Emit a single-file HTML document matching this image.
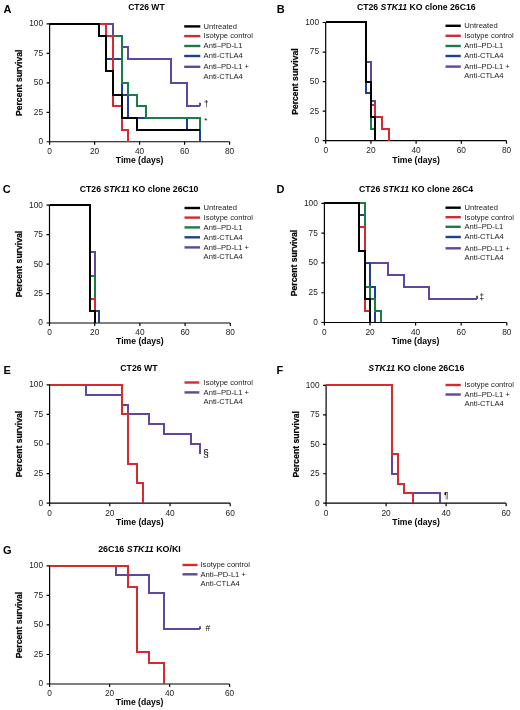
<!DOCTYPE html>
<html><head><meta charset="utf-8"><title>Survival curves</title>
<style>
html,body{margin:0;padding:0;background:#fff;width:520px;height:710px;overflow:hidden}
svg{display:block;will-change:transform}
text{font-family:"Liberation Sans",sans-serif;fill:#000}
.t{font-size:8.3px;fill:#222}
.l{font-size:7.6px;fill:#222}
.b{font-size:8.6px;font-weight:bold}
.T{font-size:9.4px;font-weight:bold}
.L{font-size:11px;font-weight:bold}
</style></head><body>
<svg width="520" height="710" viewBox="0 0 520 710">
<rect width="520" height="710" fill="#fff"/>
<text x="3.4" y="12.7" class="L">A</text>
<text x="146.4" y="10.1" text-anchor="middle" class="T" textLength="36.5" lengthAdjust="spacingAndGlyphs">CT26 WT</text>
<path d="M49.6 23.25V141.75H229.6" fill="none" stroke="#000" stroke-width="1.2"/>
<path d="M46.6 141.75H49.6M46.6 112.28H49.6M46.6 82.8H49.6M46.6 53.33H49.6M46.6 23.85H49.6M49.6 141.75V144.75M94.6 141.75V144.75M139.6 141.75V144.75M184.6 141.75V144.75M229.6 141.75V144.75" fill="none" stroke="#000" stroke-width="1.2"/>
<text x="43" y="144.15" text-anchor="end" class="t">0</text>
<text x="43" y="114.68" text-anchor="end" class="t">25</text>
<text x="43" y="85.2" text-anchor="end" class="t">50</text>
<text x="43" y="55.73" text-anchor="end" class="t">75</text>
<text x="43" y="26.25" text-anchor="end" class="t">100</text>
<text x="49.6" y="153.5" text-anchor="middle" class="t">0</text>
<text x="94.6" y="153.5" text-anchor="middle" class="t">20</text>
<text x="139.6" y="153.5" text-anchor="middle" class="t">40</text>
<text x="184.6" y="153.5" text-anchor="middle" class="t">60</text>
<text x="229.6" y="153.5" text-anchor="middle" class="t">80</text>
<text x="139.6" y="163.4" text-anchor="middle" class="b">Time (days)</text>
<text transform="translate(22 82.8) rotate(-90)" text-anchor="middle" class="b" stroke="#000" stroke-width="0.2">Percent survival</text>
<path d="M50 24H113V36H122V47H128V59H171V83H187V106H200" fill="none" stroke="#60469c" stroke-width="2.0" stroke-linejoin="miter" stroke-linecap="butt"/>
<path d="M200 102.7V106" stroke="#60469c" stroke-width="2.0"/>
<path d="M50 24H106V59H122V95H128V118H187V130H200V142" fill="none" stroke="#1f3f90" stroke-width="2.0" stroke-linejoin="miter" stroke-linecap="butt"/>
<path d="M50 24H106V36H122V83H128V95H137V106H146V118H200V130" fill="none" stroke="#1a7d49" stroke-width="2.0" stroke-linejoin="miter" stroke-linecap="butt"/>
<path d="M50 24H106V36H113V106H122V130H128V142" fill="none" stroke="#d42a30" stroke-width="2.0" stroke-linejoin="miter" stroke-linecap="butt"/>
<path d="M50 24H99V36H106V71H113V95H122V118H137V130H200" fill="none" stroke="#000000" stroke-width="2.0" stroke-linejoin="miter" stroke-linecap="butt"/>
<path d="M184.2 26.4H200.3" stroke="#000000" stroke-width="2.4"/>
<text x="203.6" y="28.75" class="l">Untreated</text>
<path d="M184.2 36.1H200.3" stroke="#d42a30" stroke-width="2.4"/>
<text x="203.6" y="38.45" class="l">Isotype control</text>
<path d="M184.2 46H200.3" stroke="#1a7d49" stroke-width="2.4"/>
<text x="203.6" y="48.35" class="l">Anti–PD-L1</text>
<path d="M184.2 56H200.3" stroke="#1f3f90" stroke-width="2.4"/>
<text x="203.6" y="58.35" class="l">Anti-CTLA4</text>
<path d="M184.2 66.8H200.3" stroke="#60469c" stroke-width="2.4"/>
<text x="203.6" y="69.15" class="l">Anti–PD-L1 +</text>
<text x="203.6" y="78.55" class="l">Anti-CTLA4</text>
<text x="204" y="106.7" style="font-size:8.2px" fill="#222">†</text>
<text x="204.3" y="122.5" style="font-size:8.0px" fill="#222">*</text>
<text x="276.8" y="13" class="L">B</text>
<text x="416.3" y="10" text-anchor="middle" class="T" textLength="118.7" lengthAdjust="spacingAndGlyphs">CT26 <tspan font-style="italic">STK11</tspan> KO clone 26C16</text>
<path d="M325.7 21.9V140.7H506.5" fill="none" stroke="#000" stroke-width="1.2"/>
<path d="M322.7 140.7H325.7M322.7 111.15H325.7M322.7 81.6H325.7M322.7 52.05H325.7M322.7 22.5H325.7M325.7 140.7V143.7M370.9 140.7V143.7M416.1 140.7V143.7M461.3 140.7V143.7M506.5 140.7V143.7" fill="none" stroke="#000" stroke-width="1.2"/>
<text x="319.1" y="143.1" text-anchor="end" class="t">0</text>
<text x="319.1" y="113.55" text-anchor="end" class="t">25</text>
<text x="319.1" y="84" text-anchor="end" class="t">50</text>
<text x="319.1" y="54.45" text-anchor="end" class="t">75</text>
<text x="319.1" y="24.9" text-anchor="end" class="t">100</text>
<text x="325.7" y="153.4" text-anchor="middle" class="t">0</text>
<text x="370.9" y="153.4" text-anchor="middle" class="t">20</text>
<text x="416.1" y="153.4" text-anchor="middle" class="t">40</text>
<text x="461.3" y="153.4" text-anchor="middle" class="t">60</text>
<text x="506.5" y="153.4" text-anchor="middle" class="t">80</text>
<text x="416.1" y="163.4" text-anchor="middle" class="b">Time (days)</text>
<text transform="translate(298.1 81.6) rotate(-90)" text-anchor="middle" class="b" stroke="#000" stroke-width="0.2">Percent survival</text>
<path d="M326 22H366V62H371V101H375V141" fill="none" stroke="#60469c" stroke-width="2.0" stroke-linejoin="miter" stroke-linecap="butt"/>
<path d="M326 22H366V93H371V117H375V141" fill="none" stroke="#1f3f90" stroke-width="2.0" stroke-linejoin="miter" stroke-linecap="butt"/>
<path d="M326 22H366V82H371V129H375V141" fill="none" stroke="#1a7d49" stroke-width="2.0" stroke-linejoin="miter" stroke-linecap="butt"/>
<path d="M326 22H366V82H371V105H375V117H382V129H389V141" fill="none" stroke="#d42a30" stroke-width="2.0" stroke-linejoin="miter" stroke-linecap="butt"/>
<path d="M326 22H366V82H371V117H375V141" fill="none" stroke="#000000" stroke-width="2.0" stroke-linejoin="miter" stroke-linecap="butt"/>
<path d="M445.5 25.8H460.8" stroke="#000000" stroke-width="2.4"/>
<text x="464.3" y="28.15" class="l">Untreated</text>
<path d="M445.5 35.8H460.8" stroke="#d42a30" stroke-width="2.4"/>
<text x="464.3" y="38.15" class="l">Isotype control</text>
<path d="M445.5 46H460.8" stroke="#1a7d49" stroke-width="2.4"/>
<text x="464.3" y="48.35" class="l">Anti–PD-L1</text>
<path d="M445.5 56H460.8" stroke="#1f3f90" stroke-width="2.4"/>
<text x="464.3" y="58.35" class="l">Anti-CTLA4</text>
<path d="M445.5 66.6H460.8" stroke="#60469c" stroke-width="2.4"/>
<text x="464.3" y="68.95" class="l">Anti–PD-L1 +</text>
<text x="464.3" y="77.95" class="l">Anti-CTLA4</text>
<text x="2.8" y="192.6" class="L">C</text>
<text x="139.1" y="191.8" text-anchor="middle" class="T" textLength="118.7" lengthAdjust="spacingAndGlyphs">CT26 <tspan font-style="italic">STK11</tspan> KO clone 26C10</text>
<path d="M49.5 204.6V323H230.3" fill="none" stroke="#000" stroke-width="1.2"/>
<path d="M46.5 323H49.5M46.5 293.55H49.5M46.5 264.1H49.5M46.5 234.65H49.5M46.5 205.2H49.5M49.5 323V326M94.7 323V326M139.9 323V326M185.1 323V326M230.3 323V326" fill="none" stroke="#000" stroke-width="1.2"/>
<text x="42.9" y="325.4" text-anchor="end" class="t">0</text>
<text x="42.9" y="295.95" text-anchor="end" class="t">25</text>
<text x="42.9" y="266.5" text-anchor="end" class="t">50</text>
<text x="42.9" y="237.05" text-anchor="end" class="t">75</text>
<text x="42.9" y="207.6" text-anchor="end" class="t">100</text>
<text x="49.5" y="335.4" text-anchor="middle" class="t">0</text>
<text x="94.7" y="335.4" text-anchor="middle" class="t">20</text>
<text x="139.9" y="335.4" text-anchor="middle" class="t">40</text>
<text x="185.1" y="335.4" text-anchor="middle" class="t">60</text>
<text x="230.3" y="335.4" text-anchor="middle" class="t">80</text>
<text x="139.9" y="343.9" text-anchor="middle" class="b">Time (days)</text>
<text transform="translate(21.9 264.1) rotate(-90)" text-anchor="middle" class="b" stroke="#000" stroke-width="0.2">Percent survival</text>
<path d="M50 205H90V252H95V323" fill="none" stroke="#60469c" stroke-width="2.0" stroke-linejoin="miter" stroke-linecap="butt"/>
<path d="M50 205H90V276H95V323" fill="none" stroke="#1a7d49" stroke-width="2.0" stroke-linejoin="miter" stroke-linecap="butt"/>
<path d="M50 205H90V299H95V323" fill="none" stroke="#d42a30" stroke-width="2.0" stroke-linejoin="miter" stroke-linecap="butt"/>
<path d="M50 205H90V311H99V323" fill="none" stroke="#1f3f90" stroke-width="2.0" stroke-linejoin="miter" stroke-linecap="butt"/>
<path d="M50 205H90V311H95V323" fill="none" stroke="#000000" stroke-width="2.0" stroke-linejoin="miter" stroke-linecap="butt"/>
<path d="M184.5 208H200" stroke="#000000" stroke-width="2.4"/>
<text x="203.6" y="210.35" class="l">Untreated</text>
<path d="M184.5 217.6H200" stroke="#d42a30" stroke-width="2.4"/>
<text x="203.6" y="219.95" class="l">Isotype control</text>
<path d="M184.5 227.4H200" stroke="#1a7d49" stroke-width="2.4"/>
<text x="203.6" y="229.75" class="l">Anti–PD-L1</text>
<path d="M184.5 237.3H200" stroke="#1f3f90" stroke-width="2.4"/>
<text x="203.6" y="239.65" class="l">Anti-CTLA4</text>
<path d="M184.5 247.4H200" stroke="#60469c" stroke-width="2.4"/>
<text x="203.6" y="249.75" class="l">Anti–PD-L1 +</text>
<text x="203.6" y="259.15" class="l">Anti-CTLA4</text>
<text x="276.4" y="192.6" class="L">D</text>
<text x="416" y="191.8" text-anchor="middle" class="T" textLength="114.1" lengthAdjust="spacingAndGlyphs">CT26 <tspan font-style="italic">STK11</tspan> KO clone 26C4</text>
<path d="M324.4 202.8V322.5H506.8" fill="none" stroke="#000" stroke-width="1.2"/>
<path d="M321.4 322.5H324.4M321.4 292.73H324.4M321.4 262.95H324.4M321.4 233.18H324.4M321.4 203.4H324.4M324.4 322.5V325.5M370 322.5V325.5M415.6 322.5V325.5M461.2 322.5V325.5M506.8 322.5V325.5" fill="none" stroke="#000" stroke-width="1.2"/>
<text x="317.8" y="324.9" text-anchor="end" class="t">0</text>
<text x="317.8" y="295.12" text-anchor="end" class="t">25</text>
<text x="317.8" y="265.35" text-anchor="end" class="t">50</text>
<text x="317.8" y="235.58" text-anchor="end" class="t">75</text>
<text x="317.8" y="205.8" text-anchor="end" class="t">100</text>
<text x="324.4" y="335.2" text-anchor="middle" class="t">0</text>
<text x="370" y="335.2" text-anchor="middle" class="t">20</text>
<text x="415.6" y="335.2" text-anchor="middle" class="t">40</text>
<text x="461.2" y="335.2" text-anchor="middle" class="t">60</text>
<text x="506.8" y="335.2" text-anchor="middle" class="t">80</text>
<text x="415.6" y="343.9" text-anchor="middle" class="b">Time (days)</text>
<text transform="translate(296.8 262.95) rotate(-90)" text-anchor="middle" class="b" stroke="#000" stroke-width="0.2">Percent survival</text>
<path d="M324 203H359V251H365V263H388V275H404V287H429V299H477" fill="none" stroke="#60469c" stroke-width="2.0" stroke-linejoin="miter" stroke-linecap="butt"/>
<path d="M477 295.7V299" stroke="#60469c" stroke-width="2.0"/>
<path d="M324 203H359V215H365V263H370V287H375V322" fill="none" stroke="#1f3f90" stroke-width="2.0" stroke-linejoin="miter" stroke-linecap="butt"/>
<path d="M324 203H365V287H370V299H375V311H381V322" fill="none" stroke="#1a7d49" stroke-width="2.0" stroke-linejoin="miter" stroke-linecap="butt"/>
<path d="M324 203H359V227H365V311H370V322" fill="none" stroke="#d42a30" stroke-width="2.0" stroke-linejoin="miter" stroke-linecap="butt"/>
<path d="M324 203H359V251H365V299H370V322" fill="none" stroke="#000000" stroke-width="2.0" stroke-linejoin="miter" stroke-linecap="butt"/>
<path d="M445.5 207.7H460.8" stroke="#000000" stroke-width="2.4"/>
<text x="464.5" y="210.05" class="l">Untreated</text>
<path d="M445.5 217.2H460.8" stroke="#d42a30" stroke-width="2.4"/>
<text x="464.5" y="219.55" class="l">Isotype control</text>
<path d="M445.5 226.8H460.8" stroke="#1a7d49" stroke-width="2.4"/>
<text x="464.5" y="229.15" class="l">Anti–PD-L1</text>
<path d="M445.5 237H460.8" stroke="#1f3f90" stroke-width="2.4"/>
<text x="464.5" y="239.35" class="l">Anti-CTLA4</text>
<path d="M445.5 248.3H460.8" stroke="#60469c" stroke-width="2.4"/>
<text x="464.5" y="250.65" class="l">Anti–PD-L1 +</text>
<text x="464.5" y="259.75" class="l">Anti-CTLA4</text>
<text x="479.5" y="300" style="font-size:8.2px" fill="#222">‡</text>
<text x="3.6" y="374" class="L">E</text>
<text x="138.95" y="371.1" text-anchor="middle" class="T" textLength="37.2" lengthAdjust="spacingAndGlyphs">CT26 WT</text>
<path d="M49.6 384.2V503.2H230.2" fill="none" stroke="#000" stroke-width="1.2"/>
<path d="M46.6 503.2H49.6M46.6 473.6H49.6M46.6 444H49.6M46.6 414.4H49.6M46.6 384.8H49.6M49.6 503.2V506.2M109.8 503.2V506.2M170 503.2V506.2M230.2 503.2V506.2" fill="none" stroke="#000" stroke-width="1.2"/>
<text x="43" y="505.6" text-anchor="end" class="t">0</text>
<text x="43" y="476" text-anchor="end" class="t">25</text>
<text x="43" y="446.4" text-anchor="end" class="t">50</text>
<text x="43" y="416.8" text-anchor="end" class="t">75</text>
<text x="43" y="387.2" text-anchor="end" class="t">100</text>
<text x="49.6" y="515.6" text-anchor="middle" class="t">0</text>
<text x="109.8" y="515.6" text-anchor="middle" class="t">20</text>
<text x="170" y="515.6" text-anchor="middle" class="t">40</text>
<text x="230.2" y="515.6" text-anchor="middle" class="t">60</text>
<text x="139.9" y="524.6" text-anchor="middle" class="b">Time (days)</text>
<text transform="translate(22 444) rotate(-90)" text-anchor="middle" class="b" stroke="#000" stroke-width="0.2">Percent survival</text>
<path d="M50 385H86V395H122V405H128V414H149V424H164V434H191V444H200V454" fill="none" stroke="#60469c" stroke-width="2.0" stroke-linejoin="miter" stroke-linecap="butt"/>
<path d="M50 385H122V414H128V464H137V483H143V503" fill="none" stroke="#d42a30" stroke-width="2.0" stroke-linejoin="miter" stroke-linecap="butt"/>
<path d="M184.5 382.5H199.3" stroke="#d42a30" stroke-width="2.4"/>
<text x="203.6" y="384.85" class="l">Isotype control</text>
<path d="M184.5 392.4H199.3" stroke="#60469c" stroke-width="2.4"/>
<text x="203.6" y="394.75" class="l">Anti–PD-L1 +</text>
<text x="203.6" y="404.15" class="l">Anti-CTLA4</text>
<text x="202.9" y="456.9" style="font-size:10.5px" fill="#222">§</text>
<text x="276.6" y="373.5" class="L">F</text>
<text x="416.35" y="371.2" text-anchor="middle" class="T" textLength="96" lengthAdjust="spacingAndGlyphs"><tspan font-style="italic">STK11</tspan> KO clone 26C16</text>
<path d="M326.1 384.8V503.2H506.1" fill="none" stroke="#000" stroke-width="1.2"/>
<path d="M323.1 503.2H326.1M323.1 473.75H326.1M323.1 444.3H326.1M323.1 414.85H326.1M323.1 385.4H326.1M326.1 503.2V506.2M386.1 503.2V506.2M446.1 503.2V506.2M506.1 503.2V506.2" fill="none" stroke="#000" stroke-width="1.2"/>
<text x="319.5" y="505.6" text-anchor="end" class="t">0</text>
<text x="319.5" y="476.15" text-anchor="end" class="t">25</text>
<text x="319.5" y="446.7" text-anchor="end" class="t">50</text>
<text x="319.5" y="417.25" text-anchor="end" class="t">75</text>
<text x="319.5" y="387.8" text-anchor="end" class="t">100</text>
<text x="326.1" y="515.6" text-anchor="middle" class="t">0</text>
<text x="386.1" y="515.6" text-anchor="middle" class="t">20</text>
<text x="446.1" y="515.6" text-anchor="middle" class="t">40</text>
<text x="506.1" y="515.6" text-anchor="middle" class="t">60</text>
<text x="416.1" y="524.6" text-anchor="middle" class="b">Time (days)</text>
<text transform="translate(298.5 444.3) rotate(-90)" text-anchor="middle" class="b" stroke="#000" stroke-width="0.2">Percent survival</text>
<path d="M326 385H392V474H398V484H404V493H440V503" fill="none" stroke="#60469c" stroke-width="2.0" stroke-linejoin="miter" stroke-linecap="butt"/>
<path d="M326 385H392V454H398V484H404V493H413V503" fill="none" stroke="#d42a30" stroke-width="2.0" stroke-linejoin="miter" stroke-linecap="butt"/>
<path d="M445.5 385H460.8" stroke="#d42a30" stroke-width="2.4"/>
<text x="464.5" y="387.35" class="l">Isotype control</text>
<path d="M445.5 394.5H460.8" stroke="#60469c" stroke-width="2.4"/>
<text x="464.5" y="396.85" class="l">Anti–PD-L1 +</text>
<text x="464.5" y="406.15" class="l">Anti-CTLA4</text>
<text x="444" y="497.9" style="font-size:8.3px" fill="#222">¶</text>
<text x="3.1" y="553.9" class="L">G</text>
<text x="139.5" y="551.6" text-anchor="middle" class="T" textLength="82.65" lengthAdjust="spacingAndGlyphs">26C16 <tspan font-style="italic">STK11</tspan> KO/KI</text>
<path d="M49.6 565.3V684H229.6" fill="none" stroke="#000" stroke-width="1.2"/>
<path d="M46.6 684H49.6M46.6 654.48H49.6M46.6 624.95H49.6M46.6 595.42H49.6M46.6 565.9H49.6M49.6 684V687M109.6 684V687M169.6 684V687M229.6 684V687" fill="none" stroke="#000" stroke-width="1.2"/>
<text x="43" y="686.4" text-anchor="end" class="t">0</text>
<text x="43" y="656.88" text-anchor="end" class="t">25</text>
<text x="43" y="627.35" text-anchor="end" class="t">50</text>
<text x="43" y="597.82" text-anchor="end" class="t">75</text>
<text x="43" y="568.3" text-anchor="end" class="t">100</text>
<text x="49.6" y="696.3" text-anchor="middle" class="t">0</text>
<text x="109.6" y="696.3" text-anchor="middle" class="t">20</text>
<text x="169.6" y="696.3" text-anchor="middle" class="t">40</text>
<text x="229.6" y="696.3" text-anchor="middle" class="t">60</text>
<text x="139.6" y="704.6" text-anchor="middle" class="b">Time (days)</text>
<text transform="translate(22 624.95) rotate(-90)" text-anchor="middle" class="b" stroke="#000" stroke-width="0.2">Percent survival</text>
<path d="M50 566H116V575H149V593H164V629H200" fill="none" stroke="#60469c" stroke-width="2.0" stroke-linejoin="miter" stroke-linecap="butt"/>
<path d="M200 626.2V629" stroke="#60469c" stroke-width="2.0"/>
<path d="M50 566H128V587H137V652H149V663H164V684" fill="none" stroke="#d42a30" stroke-width="2.0" stroke-linejoin="miter" stroke-linecap="butt"/>
<path d="M182.5 565H197.5" stroke="#d42a30" stroke-width="2.4"/>
<text x="200.5" y="567.35" class="l">Isotype control</text>
<path d="M182.5 574.3H197.5" stroke="#60469c" stroke-width="2.4"/>
<text x="200.5" y="576.65" class="l">Anti–PD-L1 +</text>
<text x="200.5" y="586.15" class="l">Anti-CTLA4</text>
<text x="205.5" y="631.3" style="font-size:8.3px" fill="#222">#</text>
</svg>
</body></html>
